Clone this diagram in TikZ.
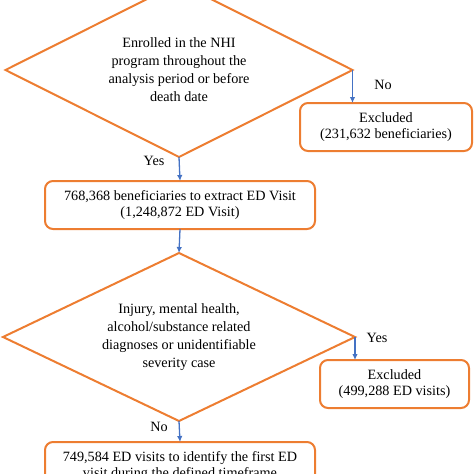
\documentclass[tikz,border=0pt]{standalone}
\usepackage{fontspec}
\setmainfont{Liberation Serif}
\usetikzlibrary{shapes.geometric,arrows.meta}
\definecolor{boxorange}{RGB}{237,125,49}
\definecolor{arrowblue}{RGB}{68,114,196}
\tikzset{decision/.style={diamond, draw=boxorange, line width=2pt, inner sep=0pt, outer sep=0pt},
question/.style={align=center, font=\fontsize{14.2}{18}\selectfont},
stepbox/.style={rectangle, rounded corners=8pt, draw=boxorange, line width=2pt, inner sep=0pt, outer sep=0pt, align=center, font=\fontsize{14.2}{16.5}\selectfont},
%blue connectors with a small head
flow/.style={draw=arrowblue, line width=1.3pt, -{Latex[length=6pt,width=5.5pt]}},
tag/.style={font=\fontsize{14.2}{17}\selectfont}}

\begin{document}
\begin{tikzpicture}[x=1pt, y=-1pt]
    \clip (0,0) rectangle (474,474);
    \node[decision, minimum width=347pt, minimum height=174pt] (enrol) at (179,70) {};
    \node[question] (enroltext) at (enrol.center) {Enrolled in the NHI\\program throughout the\\analysis period or before\\death date};
    \node[stepbox, minimum width=172pt, minimum height=48pt] (excbenef) at (386,127) {Excluded\\(231,632 beneficiaries)};
    \node[stepbox, minimum width=270pt, minimum height=48pt] (benef) at (180,205) {768,368 beneficiaries to extract ED Visit\\(1,248,872 ED Visit)};
    \node[decision, minimum width=352pt, minimum height=168pt] (injury) at (179,337) {};
    \node[question] (injurytext) at (injury.center) {Injury, mental health,\\alcohol/substance related\\diagnoses or unidentifiable\\severity case};
    \node[stepbox, minimum width=149pt, minimum height=48pt] (excvisit) at (394.5,384) {Excluded\\(499,288 ED visits)};
    \node[stepbox, minimum width=270pt, minimum height=48pt] (first) at (180,466) {749,584 ED visits to identify the first ED\\visit during the defined timeframe};

    \draw[flow] (enrol.east) -- (enrol.east |- excbenef.north);
    \node[tag] (no1) at (383,85) {No};
    \draw[flow] (enrol.south) -- (benef.north);
    \node[tag] (yes1) at (154,161) {Yes};
    \draw[flow] (benef.south) -- (injury.north);
    \draw[flow] (injury.east) -- (injury.east |- excvisit.north);
    \node[tag] (yes2) at (377,338) {Yes};
    \draw[flow] (injury.south) -- (first.north);
    \node[tag] (no2) at (159,427) {No};
\end{tikzpicture}
\end{document}
